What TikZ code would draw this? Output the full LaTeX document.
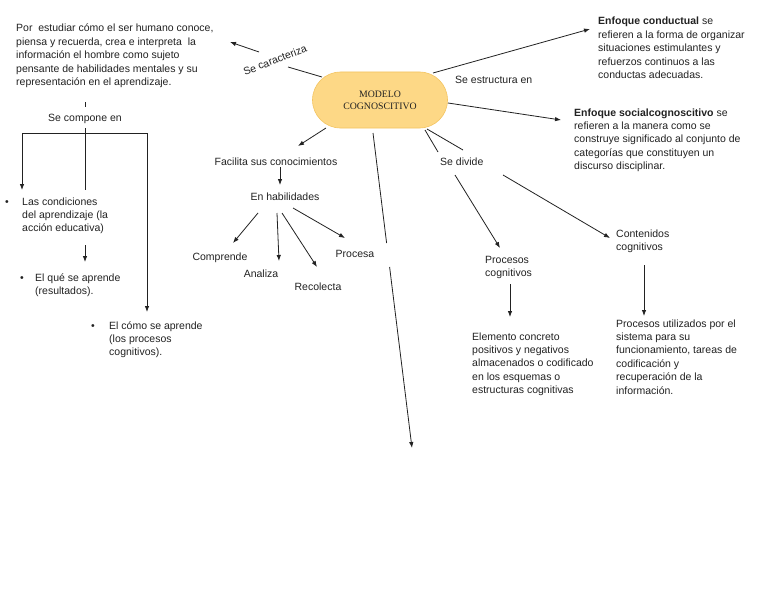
\documentclass[tikz,border=0pt]{standalone}
\usepackage{fontspec}
\setmainfont{Liberation Sans}
\newfontfamily\modelfont{Liberation Serif}
\usetikzlibrary{arrows.meta}
\newcommand{\txtlines}[1]{\begin{tabular}[t]{@{}l@{}}#1\end{tabular}}
\definecolor{ovfill}{RGB}{253,216,134}
\definecolor{ovdraw}{RGB}{244,196,96}
\definecolor{ink}{RGB}{34,34,34}
\begin{document}
\begin{tikzpicture}[x=1pt,y=-1pt,
  txt/.style={anchor=base west,inner sep=0pt,font=\fontsize{10.5}{13.45}\selectfont,text=ink},
  ctxt/.style={anchor=base,inner sep=0pt,font=\fontsize{10.5}{13.45}\selectfont,text=ink},
  conn/.style={draw=ink,line width=0.8pt},
  arr/.style={conn,-{Latex[length=6pt,width=4.5pt]}},
]
\useasboundingbox[fill=white] (0,0) rectangle (768,594);

% central node
\node[draw=ovdraw,fill=ovfill,line width=0.6pt,rounded corners=28pt,minimum width=135pt,minimum height=56pt,
  align=center,font=\modelfont\fontsize{9.8}{12}\selectfont,text=ink] (model) at (380,100) {MODELO\\COGNOSCITIVO};

% texts
\node[txt] (desc) at (16,32) {\txtlines{Por\ \ estudiar cómo el ser humano conoce,\\piensa y recuerda, crea e interpreta\ \ la\\información el hombre como sujeto\\pensante de habilidades mentales y su\\representación en el aprendizaje.}};
\node[ctxt,anchor=center,rotate=21] (carac) at (275,60) {Se caracteriza};
\node[ctxt] (compone) at (85,121) {Se compone en};

\node[txt] (b1) at (5,205) {•};
\node[txt] (cond) at (22,205) {\txtlines{Las condiciones\\del aprendizaje (la\\acción educativa)}};
\node[txt] (b2) at (20,281) {•};
\node[txt] (que) at (35,281) {\txtlines{El qué se aprende\\(resultados).}};
\node[txt] (b3) at (91,329) {•};
\node[txt] (como) at (109,329) {\txtlines{El cómo se aprende\\(los procesos\\cognitivos).}};

\node[ctxt] (facilita) at (276,165) {Facilita sus conocimientos};
\node[ctxt] (habil) at (285,200) {En habilidades};
\node[ctxt] (compr) at (220,260) {Comprende};
\node[ctxt] (anal) at (261,277) {Analiza};
\node[ctxt] (recol) at (318,290) {Recolecta};
\node[ctxt] (proc) at (355,257) {Procesa};

\node[txt] (estr) at (455,84) {Se estructura en};
\node[txt] (conduc) at (598,25) {\txtlines{\textbf{Enfoque conductual} se\\refieren a la forma de organizar\\situaciones estimulantes y\\refuerzos continuos a las\\conductas adecuadas.}};
\node[txt] (social) at (574,116) {\txtlines{\textbf{Enfoque socialcognoscitivo} se\\refieren a la manera como se\\construye significado al conjunto de\\categorías que constituyen un\\discurso disciplinar.}};
\node[txt] (divide) at (440,165) {Se divide};
\node[txt] (pcog) at (485,263) {\txtlines{Procesos\\cognitivos}};
\node[txt] (ccog) at (616,237) {\txtlines{Contenidos\\cognitivos}};
\node[txt] (elem) at (472,340) {\txtlines{Elemento concreto\\positivos y negativos\\almacenados o codificado\\en los esquemas o\\estructuras cognitivas}};
\node[txt] (putil) at (616,327) {\txtlines{Procesos utilizados por el\\sistema para su\\funcionamiento, tareas de\\codificación y\\recuperación de la\\información.}};

% connector end points
\coordinate (m-ul) at (322,77);
\coordinate (car-r) at (288,67);
\coordinate (car-l) at (259,52);
\coordinate (desc-r) at (230,42);
\coordinate (tick-a) at (85,102);
\coordinate (tick-b) at (85,107);
\coordinate (comp-b) at (85,128);
\coordinate (comp-d) at (85,190);
\coordinate (br-l) at (22,133);
\coordinate (br-r) at (147,133);
\coordinate (cond-t) at (22,190);
\coordinate (como-t) at (147,312);
\coordinate (cond-b) at (85,245);
\coordinate (que-t) at (85,262);
\coordinate (m-bl) at (326,128);
\coordinate (fac-t) at (298,146);
\coordinate (fac-b) at (280,167);
\coordinate (hab-t) at (280,185);
\coordinate (hab-1) at (258,213);
\coordinate (hab-2) at (277,213);
\coordinate (hab-3) at (282,213);
\coordinate (hab-4) at (293,208);
\coordinate (compr-t) at (233,243);
\coordinate (anal-t) at (279,261);
\coordinate (recol-t) at (317,267);
\coordinate (proc-t) at (345,238);
\coordinate (m-b) at (373,133);
\coordinate (gap-a) at (386.6,243);
\coordinate (gap-b) at (389.6,267);
\coordinate (long-end) at (412,448);
\coordinate (m-ur) at (433,73);
\coordinate (conduc-l) at (590,29);
\coordinate (m-r) at (448,103);
\coordinate (social-l) at (561,120);
\coordinate (m-br1) at (425,130);
\coordinate (m-br2) at (427,129);
\coordinate (div-1) at (438,152);
\coordinate (div-2) at (463,150);
\coordinate (div-b1) at (455,175);
\coordinate (div-b2) at (503,175);
\coordinate (pcog-t) at (500,248);
\coordinate (ccog-t) at (610,238);
\coordinate (pcog-b) at (510,284);
\coordinate (elem-t) at (510,317);
\coordinate (ccog-b) at (644,265);
\coordinate (putil-t) at (644,316);

% connectors
\draw[conn] (m-ul) -- (car-r);
\draw[arr] (car-l) -- (desc-r);
\draw[conn] (tick-a) -- (tick-b);
\draw[conn] (comp-b) -- (comp-d);
\draw[conn] (br-l) -- (br-r);
\draw[arr] (br-l) -- (cond-t);
\draw[arr] (br-r) -- (como-t);
\draw[arr] (cond-b) -- (que-t);
\draw[arr] (m-bl) -- (fac-t);
\draw[arr] (fac-b) -- (hab-t);
\draw[arr] (hab-1) -- (compr-t);
\draw[arr] (hab-2) -- (anal-t);
\draw[arr] (hab-3) -- (recol-t);
\draw[arr] (hab-4) -- (proc-t);
\draw[conn] (m-b) -- (gap-a);
\draw[arr] (gap-b) -- (long-end);
\draw[arr] (m-ur) -- (conduc-l);
\draw[arr] (m-r) -- (social-l);
\draw[conn] (m-br1) -- (div-1);
\draw[conn] (m-br2) -- (div-2);
\draw[arr] (div-b1) -- (pcog-t);
\draw[arr] (div-b2) -- (ccog-t);
\draw[arr] (pcog-b) -- (elem-t);
\draw[arr] (ccog-b) -- (putil-t);
\end{tikzpicture}
\end{document}
